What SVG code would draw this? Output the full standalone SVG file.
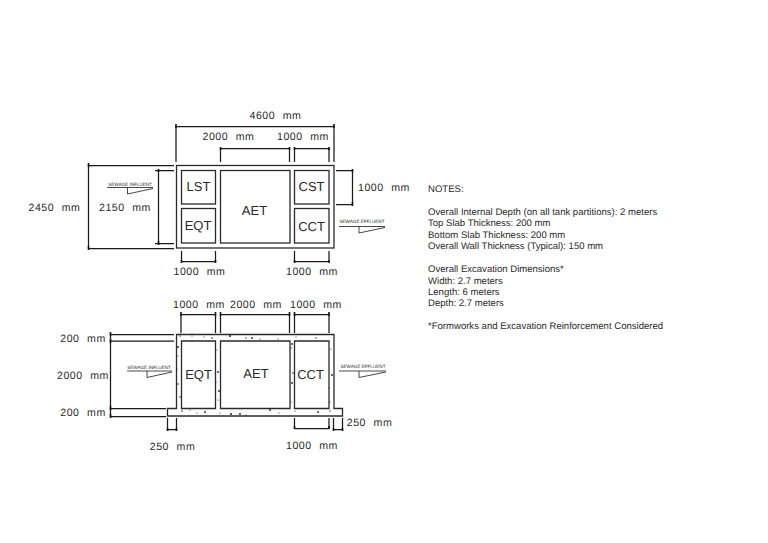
<svg xmlns="http://www.w3.org/2000/svg" width="768" height="543" viewBox="0 0 768 543">
<style>
text{font-family:"Liberation Sans",Arial,sans-serif;fill:#2a2a2a;text-rendering:geometricPrecision}
.d{font-size:10.6px;word-spacing:4.2px;letter-spacing:.5px;text-anchor:middle}
.r{font-size:13px;text-anchor:middle}
.n{font-size:9.55px}
.s{font-size:4.6px;text-anchor:middle}
.w{fill:none;stroke:#2a2a2a;stroke-width:1.3}
.l{fill:none;stroke:#1a1a1a;stroke-width:1.25}
.t{fill:none;stroke:#111;stroke-width:1.6}
.a{fill:none;stroke:#333;stroke-width:.9}
.h{fill:#222;stroke:none}
</style>
<rect width="768" height="543" fill="#fff"/>
<g id="plan-tank"><rect class="w" x="176.5" y="165.5" width="157.5" height="82.5"/></g>
<g id="plan-lst"><rect class="w" x="181.5" y="170.5" width="34" height="33.5"/><text class="r" x="198.5" y="191">LST</text></g>
<g id="plan-eqt"><rect class="w" x="181.5" y="208.5" width="34" height="34.5"/><text class="r" x="198" y="229.5">EQT</text></g>
<g id="plan-aet"><rect class="w" x="220.5" y="170.5" width="69.5" height="72.5"/><text class="r" x="254.5" y="214.5">AET</text></g>
<g id="plan-cst"><rect class="w" x="294.5" y="170.5" width="34.5" height="33.5"/><text class="r" x="311.5" y="191">CST</text></g>
<g id="plan-cct"><rect class="w" x="294.5" y="208.5" width="34.5" height="34.5"/><text class="r" x="311.5" y="230.5">CCT</text></g>
<g id="section-tank">
<path class="w" d="M176.5 334.5H334V408.5H342.5V416H167.5V408.5H176.5Z"/>
<path class="w" d="M181.5 341H215.5V408.5H181.5Z"/>
<path class="w" d="M220.5 341H290V408.5H220.5Z"/>
<path class="w" d="M294.5 341H329V408.5H294.5Z"/>
<g class="h">
<circle cx="180" cy="336" r=".7"/><circle cx="192" cy="336" r=".6"/><circle cx="204" cy="337" r=".6"/><circle cx="212" cy="338" r=".8"/><circle cx="230" cy="336" r="1"/><circle cx="246" cy="338" r=".7"/><circle cx="252" cy="338" r=".9"/><circle cx="260" cy="339" r=".6"/><circle cx="278" cy="339" r=".6"/><circle cx="296" cy="337" r=".6"/><circle cx="316" cy="338" r=".7"/>
<circle cx="178" cy="347" r=".9"/><circle cx="178" cy="356" r=".6"/><circle cx="177" cy="369" r=".6"/><circle cx="178" cy="384" r=".8"/><circle cx="180" cy="397" r=".8"/><circle cx="217" cy="350" r=".5"/><circle cx="218" cy="372" r=".9"/><circle cx="216" cy="382" r=".6"/><circle cx="219" cy="391" r=".9"/><circle cx="218" cy="400" r=".6"/>
<circle cx="292" cy="344" r=".9"/><circle cx="291" cy="348" r=".7"/><circle cx="293" cy="373" r=".8"/><circle cx="292" cy="383" r=".9"/><circle cx="291" cy="402" r=".6"/><circle cx="331" cy="349" r=".6"/><circle cx="332" cy="375" r=".9"/><circle cx="329" cy="388" r=".6"/><circle cx="330" cy="402" r=".6"/>
<circle cx="182" cy="411" r=".8"/><circle cx="190" cy="410" r=".6"/><circle cx="197" cy="413" r=".6"/><circle cx="205" cy="412" r=".9"/><circle cx="220" cy="413" r=".6"/><circle cx="231" cy="414" r="1"/><circle cx="240" cy="414" r=".9"/><circle cx="246" cy="415" r=".6"/><circle cx="270" cy="410" r=".9"/><circle cx="279" cy="413" r=".6"/><circle cx="295" cy="411" r=".6"/><circle cx="318" cy="412" r=".9"/><circle cx="330" cy="411" r=".7"/>
</g>
<text class="r" x="198.5" y="379">EQT</text><text class="r" x="256" y="378">AET</text><text class="r" x="310.5" y="379">CCT</text>
</g>
<g id="connectors">
<path class="l" d="M176 126.5H334M176 126V162M334 126V162M220.5 148.5H289.5M220.5 148.5V162M289.5 148.5V162M294.5 148.5H329M294.5 148.5V162M329 148.5V162"/>
<path class="l" d="M88 165.5H174M88 248.5H174M88.5 165V248M155 170.5H174M155 243.5H174M158.5 170.5V243"/>
<path class="l" d="M336 170.5H353M336 204.5H353M352.5 170.5V204"/>
<path class="l" d="M181.5 251V262M215.5 251V262M181.5 261.5H215.5M294.5 251V262M329 251V262M294.5 261.5H329"/>
<path class="l" d="M181 314.5H215.5M181 314V333M215.5 314V333M220.5 314.5H289.5M220.5 314V333M289.5 314V333M294.5 314.5H329M294.5 314V333M329 314V333"/>
<path class="l" d="M110 334.5H174M110 341H174M110 408.5H166M110 416.5H166M110.5 334V416"/>
<path class="l" d="M167.5 418V431M176.5 418V431M167.5 429.5H176.5M333.5 418V430M342.5 418V430M333.5 429.5H342.5M294.5 418V429M329 418V429M294.5 428.5H329"/>
<path class="t" d="M176 124v4M334 124v4M220.5 147v3M289.5 147v3M294.5 147v3M329 147v3M88.5 163v4M88.5 246v4M158.5 169v3M158.5 241v4M352.5 169v3M352.5 202v4M181.5 260v3M215.5 260v3M294.5 260v3M329 260v3M181 312v4M215.5 312v4M220.5 312v4M289.5 312v4M294.5 312v4M329 312v4M110.5 332v4M110.5 339v4M110.5 406v4M110.5 414v4M167.5 428v3M176.5 428v3M333.5 428v3M342.5 428v3M294.5 426v3M329 426v3"/>
<path class="a" d="M107 187.5H153M127.5 187.5V194L153 188.5M339 226.5H385M359 226.5V233L385 227.5M127 371H172M147 371V377.5L172 372M339 371H386M359 371V377.5L386 372"/>
</g>
<g id="dimension-labels">
<text class="d" x="275.5" y="119">4600 mm</text>
<text class="d" x="228.5" y="140">2000 mm</text>
<text class="d" x="303" y="140">1000 mm</text>
<text class="d" x="54.5" y="211">2450 mm</text>
<text class="d" x="125" y="211">2150 mm</text>
<text class="d" x="384" y="191">1000 mm</text>
<text class="d" x="199.5" y="275">1000 mm</text>
<text class="d" x="312" y="275">1000 mm</text>
<text class="d" x="199" y="308">1000 mm</text>
<text class="d" x="256" y="308">2000 mm</text>
<text class="d" x="316" y="308">1000 mm</text>
<text class="d" x="83" y="342">200 mm</text>
<text class="d" x="83" y="379">2000 mm</text>
<text class="d" x="83" y="416">200 mm</text>
<text class="d" x="172.5" y="450">250 mm</text>
<text class="d" x="369.5" y="426">250 mm</text>
<text class="d" x="312" y="449">1000 mm</text>
</g>
<g id="flow-labels">
<text class="s" x="130" y="186">SEWAGE INFLUENT</text>
<text class="s" x="362" y="223">SEWAGE EFFLUENT</text>
<text class="s" x="149" y="369">SEWAGE INFLUENT</text>
<text class="s" x="363" y="368">SEWAGE EFFLUENT</text>
</g>
<g id="notes">
<text class="n" x="428" y="192">NOTES:</text>
<text class="n" x="428" y="215">Overall Internal Depth (on all tank partitions): 2 meters</text>
<text class="n" x="428" y="226">Top Slab Thickness: 200 mm</text>
<text class="n" x="428" y="238">Bottom Slab Thickness: 200 mm</text>
<text class="n" x="428" y="249">Overall Wall Thickness (Typical): 150 mm</text>
<text class="n" x="428" y="272">Overall Excavation Dimensions*</text>
<text class="n" x="428" y="284">Width: 2.7 meters</text>
<text class="n" x="428" y="295">Length: 6 meters</text>
<text class="n" x="428" y="306">Depth: 2.7 meters</text>
<text class="n" x="428" y="329">*Formworks and Excavation Reinforcement Considered</text>
</g>
</svg>
